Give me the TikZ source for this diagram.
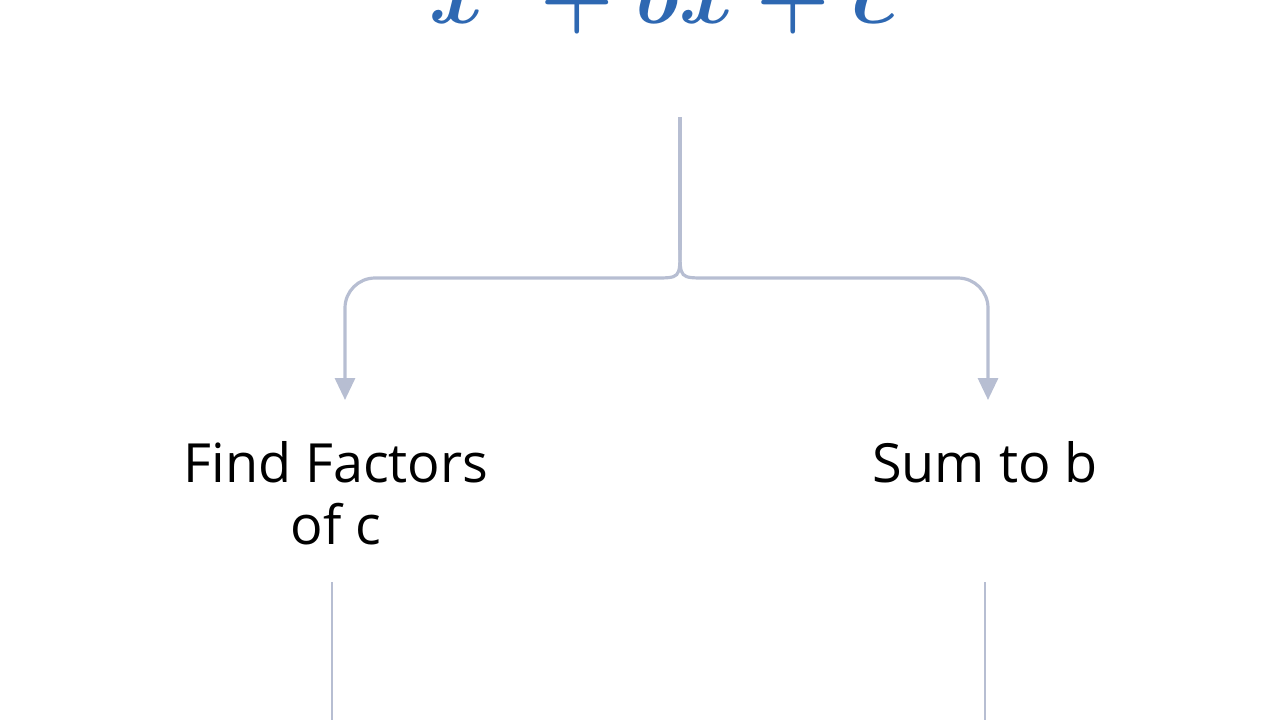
\RequirePackage{fix-cm}
\documentclass[tikz,border=0pt]{standalone}
\usepackage{fontspec}
\setmainfont{Open Sans}
\usepackage{amsmath}
\usetikzlibrary{arrows.meta,positioning}
\definecolor{linegrey}{HTML}{B7BED2}
\definecolor{inkblue}{HTML}{2E68B2}
\tikzstyle{branch}=[
	draw=linegrey,
	line width=1.6pt]
\tikzstyle{tail}=[
	draw=linegrey,
	line width=1.1pt]
\tikzstyle{task}=[
	align=center,
	inner sep=0pt,
	font=\fontsize{27}{31}\selectfont]
\tikzstyle{expr}=[
	inner sep=0pt,
	text=inkblue,
	font=\fontsize{42}{42}\selectfont\boldmath]

\begin{document}
\begin{tikzpicture}[x=0.5pt,y=-0.5pt,>={Triangle[width=10pt,length=11pt]}]
	\useasboundingbox (0,0) rectangle (1280,720);
	\clip (0,0) rectangle (1280,720);
	% formula, cut by the top edge
	\node[expr,anchor=base] (formula) at (662,23) {$x^2+bx+c$};
	% the two tasks
	\node[task] (factors) at (336,493) {Find Factors\\of c};
	\node[task,anchor=base] (sumb) at (985,482) {Sum to b};
	\coordinate (trunk) at (680,117);
	\coordinate (fork) at (680,278);
	\coordinate (factorsin) at (345,400);
	\coordinate (sumbin) at (988,400);
	\coordinate (factorsout) at (332,720);
	\coordinate (sumbout) at (985,720);
	% split
	\draw[branch] (trunk) -- (680,250);
	\draw[branch,->] (680,250) .. controls (fork) .. (654,278)
		[rounded corners=15pt] -- (factorsin |- fork) -- (factorsin);
	\draw[branch,->] (680,250) .. controls (fork) .. (706,278)
		[rounded corners=15pt] -- (sumbin |- fork) -- (sumbin);
	% going on below
	\draw[tail] (factorsout |- factors.south) ++(0,37) -- (factorsout);
	\draw[tail] (sumbout |- factors.south) ++(0,37) -- (sumbout);
\end{tikzpicture}
\end{document}
